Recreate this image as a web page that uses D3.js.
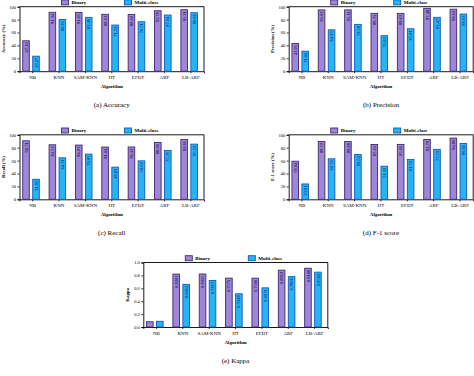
<!DOCTYPE html>
<html>
<head>
<meta charset="utf-8">
<script src="https://cdn.jsdelivr.net/npm/d3@7"></script>
<style>
  body { margin: 0; background: #fff; }
  svg { display: block; font-family: "Liberation Serif", "DejaVu Serif", serif; }
</style>
</head>
<body>
<div id="chart"></div>
<script>
// Five grouped bar panels: Binary vs Multi-class per algorithm

const algorithms = ["NB", "KNN", "SAM-KNN", "HT", "EFDT", "ARF", "LB-ARF"];
const seriesNames = ["Binary", "Multi-class"];

const accuracyBinary = [47.12, 91.34, 91.05, 88.13, 88.02, 93.78, 95.31];
const accuracyMulti  = [23.27, 80.05, 83.46, 71.52, 76.71, 87.04, 90.66];

const precisionBinary = [43.05, 95.02, 95.11, 89.71, 89.63, 97.48, 96.12];
const precisionMulti  = [31.04, 64.13, 72.58, 55.02, 65.81, 83.47, 88.63];

const recallBinary = [90.71, 84.52, 84.03, 81.04, 81.12, 88.06, 92.81];
const recallMulti  = [31.02, 64.31, 70.05, 49.83, 59.62, 75.71, 85.52];

const f1Binary = [59.04, 89.72, 89.68, 85.03, 85.11, 92.79, 94.88];
const f1Multi  = [23.81, 62.74, 69.52, 51.31, 61.72, 77.33, 86.61];

const kappaBinary = [0.0812, 0.8203, 0.8215, 0.7571, 0.7566, 0.8812, 0.9108];
const kappaMulti  = [0.0884, 0.6612, 0.7213, 0.5148, 0.6071, 0.7806, 0.8502];

const percentTicks = [0, 20, 40, 60, 80, 100];
const kappaTicks = [0, 0.2, 0.4, 0.6, 0.8, 1.0];

const binaryFill = "#9f86d8", binaryStroke = "#3b2a73", binaryText = "#2e2060";
const multiFill = "#27b4f5", multiStroke = "#1558b8", multiText = "#0b3f8f";

const svg = d3.select("#chart")
    .append("svg")
    .attr("width", 474)
    .attr("height", 376);

function drawPanel(opts) {
    const left = opts.left, top = opts.top;
    const w = 184.5, h = 64.5;

    const g = svg.append("g").attr("transform", `translate(${left}, ${top})`);

    const x = d3.scaleBand().domain(algorithms).range([0, w]).padding(0);
    const xInner = d3.scaleBand().domain(seriesNames).range([0, x.bandwidth()])
        .paddingInner(0.34).paddingOuter(0.49).align(0.33);
    const y = d3.scaleLinear().domain([0, opts.max]).range([h, 0]);

    // frame
    g.append("path")
        .attr("d", `M0,0H${w}V${h}`)
        .attr("fill", "none")
        .attr("stroke", "#000")
        .attr("stroke-width", 0.9);

    const yAxis = g.append("g")
        .call(d3.axisLeft(y).tickValues(opts.ticks).tickSize(2).tickPadding(1.5).tickFormat(opts.tickFormat));
    yAxis.select(".domain").attr("stroke-width", 0.9);
    yAxis.selectAll(".tick line").attr("stroke-width", 0.8);
    yAxis.selectAll("text").attr("font-size", 4.5).attr("font-family", "Liberation Serif");

    const xAxis = g.append("g")
        .attr("transform", `translate(0, ${h})`)
        .call(d3.axisBottom(x).tickSize(2).tickPadding(2));
    xAxis.select(".domain").attr("stroke-width", 0.9);
    xAxis.selectAll(".tick line").attr("stroke-width", 0.8);
    xAxis.selectAll("text").attr("font-size", 5).attr("font-family", "Liberation Serif");

    const rows = algorithms.map((a, i) => ({
        alg: a,
        vals: [
            {s: "Binary", v: opts.binary[i]},
            {s: "Multi-class", v: opts.multi[i]}
        ]
    }));

    const groups = g.selectAll(".grp")
        .data(rows)
        .join("g")
        .attr("transform", d => `translate(${x(d.alg)}, 0)`);

    groups.selectAll("rect")
        .data(d => d.vals)
        .join("rect")
        .attr("x", d => xInner(d.s))
        .attr("y", d => y(d.v))
        .attr("width", xInner.bandwidth())
        .attr("height", d => h - y(d.v))
        .attr("fill", d => d.s === "Binary" ? binaryFill : multiFill)
        .attr("stroke", d => d.s === "Binary" ? binaryStroke : multiStroke)
        .attr("stroke-width", 0.9);

    // value labels only where the bar is tall enough to hold them
    groups.selectAll("text.val")
        .data(d => d.vals.filter(v => h - y(v.v) > 10))
        .join("text")
        .attr("class", "val")
        .attr("transform", d => `translate(${xInner(d.s) + xInner.bandwidth() / 2 + 1.6}, ${y(d.v) + 1.5}) rotate(-90)`)
        .attr("text-anchor", "end")
        .attr("font-size", 4.5)
        .attr("font-weight", "bold")
        .attr("fill", d => d.s === "Binary" ? binaryText : multiText)
        .text(d => opts.labelFormat(d.v));

    // legend
    const legend = g.append("g").attr("transform", `translate(0, -4.3)`);
    const items = [
        {name: "Binary", x: 42, fill: binaryFill, stroke: binaryStroke},
        {name: "Multi-class", x: 105, fill: multiFill, stroke: multiStroke}
    ];
    items.forEach(it => {
        legend.append("rect")
            .attr("x", it.x).attr("y", -2.5)
            .attr("width", 7).attr("height", 5)
            .attr("fill", it.fill)
            .attr("stroke", it.stroke)
            .attr("stroke-width", 0.9);
        legend.append("text")
            .attr("x", it.x + 10).attr("y", 1.7)
            .attr("font-size", 5)
            .attr("font-weight", "bold")
            .text(it.name);
    });

    // axis titles
    g.append("text")
        .attr("transform", `translate(${-14.5}, ${h / 2}) rotate(-90)`)
        .attr("text-anchor", "middle")
        .attr("font-size", 4.8)
        .attr("font-weight", "bold")
        .text(opts.yLabel);

    g.append("text")
        .attr("x", w / 2).attr("y", h + 16.5)
        .attr("text-anchor", "middle")
        .attr("font-size", 5)
        .attr("font-weight", "bold")
        .text("Algorithm");

    g.append("text")
        .attr("x", w / 2).attr("y", h + 35.5)
        .attr("text-anchor", "middle")
        .attr("font-size", 7)
        .text(opts.caption);
}

const pct = {max: 100, ticks: percentTicks, tickFormat: d3.format("d"), labelFormat: d3.format(".2f")};

drawPanel(Object.assign({left: 19.5, top: 6.7, binary: accuracyBinary, multi: accuracyMulti,
    yLabel: "Accuracy (%)", caption: "(a)  Accuracy"}, pct));
drawPanel(Object.assign({left: 288.7, top: 6.7, binary: precisionBinary, multi: precisionMulti,
    yLabel: "Precision (%)", caption: "(b) Precision"}, pct));
drawPanel(Object.assign({left: 19.5, top: 134.8, binary: recallBinary, multi: recallMulti,
    yLabel: "Recall (%)", caption: "(c) Recall"}, pct));
drawPanel(Object.assign({left: 288.7, top: 134.8, binary: f1Binary, multi: f1Multi,
    yLabel: "F-1 score (%)", caption: "(d) F-1 score"}, pct));
drawPanel({left: 143.3, top: 262.5, binary: kappaBinary, multi: kappaMulti,
    max: 1, ticks: kappaTicks, tickFormat: d3.format(".1f"), labelFormat: d3.format(".4f"),
    yLabel: "Kappa", caption: "(e) Kappa"});
</script>
</body>
</html>
